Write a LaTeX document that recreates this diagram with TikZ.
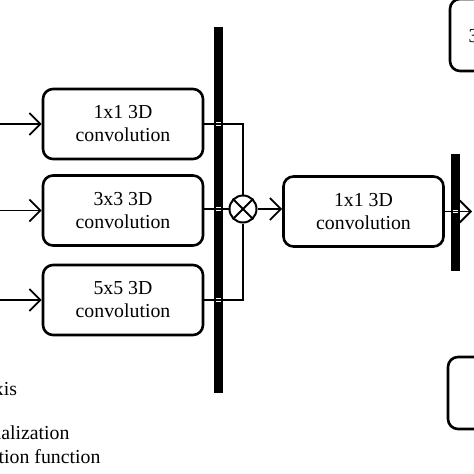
\documentclass[tikz,border=0pt]{standalone}
\usepackage{fontspec}
\setmainfont{Liberation Serif}
\usetikzlibrary{arrows.meta}
\begin{document}
\begin{tikzpicture}[x=1pt,y=-1pt,
  txt/.style={font=\fontsize{19.8}{23}\selectfont},
  box/.style={draw, line width=2.6pt, rounded corners=10pt, minimum width=160pt,
    minimum height=70pt, align=center, inner sep=0pt, txt},
  conn/.style={line width=1.8pt},
  arr/.style={conn, -{Straight Barb[length=11pt,width=22pt,line width=1.8pt]}},
  bar/.style={fill=black, draw=none, inner sep=0pt, minimum width=8.5pt},
  halo/.style={white, line width=3.4pt, shorten <=1.5pt, shorten >=1.5pt},
  mult/.style={draw, circle, line width=2pt, minimum size=27pt, inner sep=0pt}]
\useasboundingbox (0,0) rectangle (474,474);
\clip (0,0) rectangle (474,474);

% boxes
\node[box] (c1) at (123,124) {1x1 3D\\convolution};
\node[box] (c3) at (123,210.5) {3x3 3D\\convolution};
\node[box] (c5) at (123,300) {5x5 3D\\convolution};
\node[box] (c7) at (363.5,211.5) {1x1 3D\\convolution};
\node[box, minimum width=100pt, minimum height=72pt] (tr) at (500,35) {};
\node[txt, anchor=west] (trt) at (465,36) {3};
\node[box, minimum width=124pt, minimum height=72pt] (br) at (510,393) {};

% bars
\node[bar, minimum height=366pt] (b1) at (218.5,210) {};
\node[bar, minimum height=117pt] (b2) at (455.5,212.5) {};

% multiply
\node[mult] (m) at (243,209) {};
\draw[line width=2pt] (m.north west) -- (m.south east) (m.north east) -- (m.south west);

% inputs
\coordinate (i1) at (-2,124);
\coordinate (i3) at (-2,210.5);
\coordinate (i5) at (-2,300);
\draw[arr] (i1) -- (c1.west);
\draw[arr] (i3) -- (c3.west);
\draw[arr] (i5) -- (c5.west);

% crossings on bars
\draw[halo] (b1.west |- c1.east) -- (b1.east |- c1.east);
\draw[halo] (b1.west |- m.west) -- (b1.east |- m.west);
\draw[halo] (b1.west |- c5.east) -- (b1.east |- c5.east);
\draw[halo] (b2.west |- c7.east) -- (b2.east |- c7.east);

% outputs to multiply
\draw[conn] (c1.east) -| (m.north);
\draw[conn] (c3.east |- m.west) -- (m.west);
\draw[conn] (c5.east) -| (m.south);
\draw[arr] (m.east) -- (m.east -| c7.west);

% output right
\coordinate (o) at (472,211.5);
\draw[arr] (c7.east) -- (o);

% legend fragments
\node[txt, anchor=base east] (l1) at (20.5,395) {xis};
\node[txt, anchor=base east] (l2) at (73,439) {nalization};
\node[txt, anchor=base east] (l3) at (104,463) {tion function};
\end{tikzpicture}
\end{document}
